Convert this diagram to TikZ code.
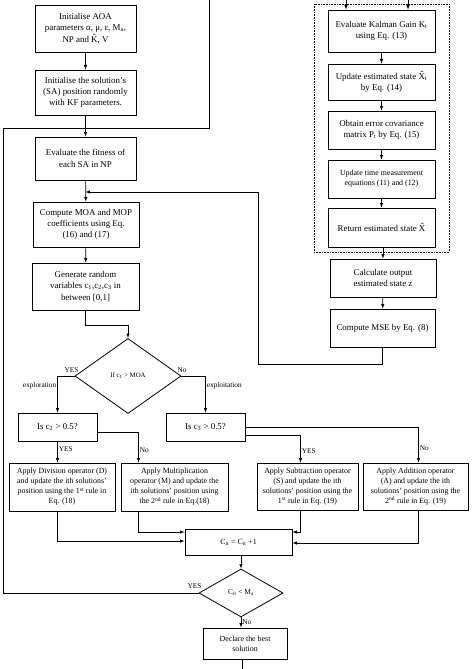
\documentclass[tikz,border=0pt]{standalone}
\usepackage{fontspec}
\setmainfont{Liberation Serif}
\usetikzlibrary{shapes.geometric}
\tikzset{
  box/.style={draw, line width=0.8pt, align=center, inner sep=1pt, font=\fontsize{8.9}{11.3}\selectfont},
  opbox/.style={box, font=\fontsize{7.9}{10}\selectfont},
  ask/.style={draw, line width=0.8pt, diamond, inner sep=0pt, align=center, font=\fontsize{6.8}{8}\selectfont},
  lab/.style={inner sep=1pt, font=\fontsize{7.3}{8}\selectfont},
  flow/.style={line width=0.6pt}
}
\begin{document}
\begin{tikzpicture}[x=1pt, y=-1pt, >=latex]
\useasboundingbox (0,0) rectangle (474,669);
\node[box, minimum width=101pt, minimum height=47pt] (init) at (85.5,28.5) {Initialise AOA\\parameters α, μ, ε, M\textsubscript{a},\\NP and \^{K}, V};
\node[box, minimum width=101pt, minimum height=45pt] (sol) at (85.5,92.5) {Initialise the solution's\\(SA) position randomly\\with KF parameters.};
\node[box, minimum width=101pt, minimum height=43pt] (fit) at (85.5,158.5) {Evaluate the fitness of\\each SA in NP};
\node[box, minimum width=106pt, minimum height=45pt] (moa) at (86,224.5) {Compute MOA and MOP\\coefficients using Eq.\\(16) and (17)};
\node[box, minimum width=107pt, minimum height=47pt] (rnd) at (85.5,286.5) {Generate random\\variables c\textsubscript{1},c\textsubscript{2},c\textsubscript{3} in\\between [0,1]};
\node[ask, minimum width=106pt, minimum height=75pt] (dec1) at (128,376) {If c\textsubscript{1} > MOA};
\node[box, minimum width=79pt, minimum height=28pt] (isc2) at (57.5,427) {Is c\textsubscript{2} > 0.5?};
\node[box, minimum width=79pt, minimum height=28pt] (isc3) at (205.5,427) {Is c\textsubscript{3} > 0.5?};
\node[opbox, minimum width=106pt, minimum height=48pt] (div) at (62,487) {Apply Division operator (D)\\and update the ith solutions'\\position using the 1\textsuperscript{st} rule in\\Eq. (18)};
\node[opbox, minimum width=107pt, minimum height=48pt] (mul) at (174.5,487) {Apply Multiplication\\operator (M) and update the\\ith solutions' position using\\the 2\textsuperscript{nd} rule in Eq.(18)};
\node[opbox, minimum width=101pt, minimum height=47pt] (sub) at (307.5,486.5) {Apply Subtraction operator\\(S) and update the ith\\solutions' position using the\\1\textsuperscript{st} rule in Eq. (19)};
\node[opbox, minimum width=105pt, minimum height=47pt] (add) at (415.5,486.5) {Apply Addition operator\\(A) and update the ith\\solutions' position using the\\2\textsuperscript{nd} rule in Eq. (19)};
\node[opbox, minimum width=107pt, minimum height=26pt] (cnt) at (238.5,542) {C\textsubscript{it} = C\textsubscript{it} +1};
\node[ask, minimum width=84pt, minimum height=48pt, font=\fontsize{7.5}{8}\selectfont] (dec2) at (241,593) {C\textsubscript{it} < M\textsubscript{a}};
\node[opbox, minimum width=84pt, minimum height=31pt] (best) at (245,643.5) {Declare the best\\solution};
\draw[line width=0.6pt, densely dotted] (314,4) rectangle (449,252);
\node[box, minimum width=107pt, minimum height=42pt] (kal) at (381.5,31) {Evaluate Kalman Gain K\textsubscript{t}\\using Eq. (13)};
\node[box, minimum width=107pt, minimum height=36pt] (upx) at (381.5,82) {Update estimated state \^{X}\textsubscript{t}\\by Eq. (14)};
\node[box, minimum width=107pt, minimum height=38pt] (cov) at (381.5,130) {Obtain error covariance\\matrix P\textsubscript{t} by Eq. (15)};
\node[opbox, minimum width=107pt, minimum height=38pt] (tim) at (381.5,179) {Update time measurement\\equations (11) and (12)};
\node[box, minimum width=107pt, minimum height=39pt] (ret) at (381.5,227.5) {Return estimated state \^{X}};
\node[box, minimum width=106pt, minimum height=38pt] (out) at (383,278) {Calculate output\\estimated state z};
\node[box, minimum width=105pt, minimum height=38pt] (mse) at (382.5,328) {Compute MSE by Eq. (8)};
\coordinate (back) at (85.5,192);
\coordinate (mseturn) at (258,364);
\coordinate (lp1) at (3,128);
\coordinate (lp2) at (209,0);
\coordinate (top1) at (346,0);
\coordinate (top2) at (408,0);
\coordinate (bottomend) at (242,669);
\draw[flow][->] (init) -- (sol);
\draw[flow][->] (sol) -- (fit);
\draw[flow][->] (fit) -- (moa);
\draw[flow][->] (moa) -- (rnd);
\draw[flow][->] (rnd.south) -- ++(0,15) -| (dec1.north);
\draw[flow][->] (dec1.west) -| (isc2.north) node[lab, pos=0.63, left] (lexpl) {exploration};
\node[lab, anchor=south east] (lyes1) at ([xshift=5pt,yshift=2pt]dec1.west) {YES};
\draw[flow][->] (dec1.east) -| (isc3.north) node[lab, pos=0.63, right] (lexpt) {exploitation};
\node[lab, anchor=south west] (lno1) at ([xshift=-5pt,yshift=2pt]dec1.east) {No};
\draw[flow][->] (isc2.south) -- (isc2.south |- div.north) node[lab, pos=0.35, right] (lyes2) {YES};
\draw[flow][->] ([yshift=-5pt]isc2.east) -| ([xshift=-36pt]mul.north) node[lab, pos=0.8, right] (lno2) {No};
\draw[flow][->] ([yshift=-8pt]isc3.east) -| ([xshift=-7pt]sub.north) node[lab, pos=0.8, right] (lyes3) {YES};
\draw[flow][->] (isc3.east) -| ([xshift=3pt]add.north) node[lab, pos=0.8, right] (lno3) {No};
\draw[flow][->] ([xshift=-5pt]div.south) |- ([yshift=1pt]cnt.west);
\draw[flow][->] ([xshift=-36pt]mul.south) |- ([yshift=10pt]cnt.west);
\draw[flow][->] ([xshift=-7pt]sub.south) |- ([yshift=10pt]cnt.east);
\draw[flow][->] ([xshift=3pt]add.south) |- ([yshift=-1pt]cnt.east);
\draw[flow][->] (cnt.south -| dec2.north) -- (dec2.north);
\draw[flow][->] (dec2.south) -- (dec2.south |- best.north) node[lab, midway, right] (lno4) {No};
\node[lab, anchor=south east] (lyes4) at ([xshift=4pt,yshift=3pt]dec2.west) {YES};
\draw[flow] (dec2.west) -| (lp1) -| (lp2);
\draw[flow] (best.south -| bottomend) -- (bottomend);
\draw[flow][->] (top1) -- (top1 |- kal.north);
\draw[flow][->] (top2) -- (top2 |- kal.north);
\draw[flow][->] (kal) -- (upx);
\draw[flow][->] (upx) -- (cov);
\draw[flow][->] (cov) -- (tim);
\draw[flow][->] (tim) -- (ret);
\draw[flow][->] (ret.south -| out.north) -- (out.north);
\draw[flow][->] (out) -- (mse);
\draw[flow][->] (mse.south) |- (mseturn) |- (back);
\end{tikzpicture}
\end{document}
